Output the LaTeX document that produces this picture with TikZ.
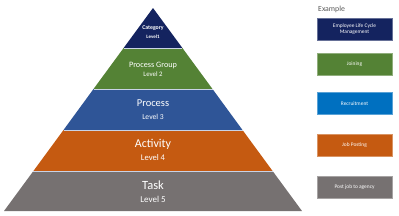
\documentclass[tikz,border=0pt]{standalone}
\usepackage{fontspec}
\setmainfont{Carlito}
\usepackage{tikz}
\usetikzlibrary{positioning}

\definecolor{lvlone}{HTML}{14235F}
\definecolor{lvltwo}{HTML}{548235}
\definecolor{lvlthree}{HTML}{2F5597}
\definecolor{lvlfour}{HTML}{C55A11}
\definecolor{lvlfive}{HTML}{767171}
\definecolor{exblue}{HTML}{0070C0}
\definecolor{gapline}{HTML}{C9D3E6}

\begin{document}
\begin{tikzpicture}[
    x=1pt, y=-1pt,
    band/.style={draw=gapline, line width=0.9pt, line join=miter},
    title/.style={text=white, inner sep=0pt, anchor=center},
    exbox/.style={draw=#1!65!white, fill=#1, line width=0.6pt,
                  minimum width=75pt, minimum height=22pt, inner sep=1pt,
                  text=white, align=center, font=\fontsize{5.4}{5.8}\selectfont},
  ]
  \useasboundingbox (0,0) rectangle (399,215);
  %% Pyramid bands (top to bottom)
  \fill[lvlone]   (153,8) -- (182.4,48) -- (123.6,48) -- cycle;
  \fill[lvltwo]   (123.6,48) -- (182.4,48) -- (212.5,89) -- (93.5,89) -- cycle;
  \fill[lvlthree] (93.5,89) -- (212.5,89) -- (242.5,130) -- (63.5,130) -- cycle;
  \fill[lvlfour]  (63.5,130) -- (242.5,130) -- (272.6,171) -- (33.4,171) -- cycle;
  \fill[lvlfive]  (33.4,171) -- (272.6,171) -- (302,211) -- (4,211) -- cycle;
  \draw[band] (123.6,48) -- (182.4,48);
  \draw[band] (93.5,89) -- (212.5,89);
  \draw[band] (63.5,130) -- (242.5,130);
  \draw[band] (33.4,171) -- (272.6,171);
  %% Band labels
  \node[title, font=\bfseries\fontsize{5.8}{6}\selectfont] (cat) at (153,28) {Category};
  \node[title, font=\bfseries\fontsize{5}{6}\selectfont] (catlvl) at (153,37) {Level1};
  \node[title, font=\fontsize{8.2}{9}\selectfont] (grp) at (153,65.5) {Process Group};
  \node[title, font=\fontsize{6.8}{8}\selectfont] (grplvl) at (153,74) {Level 2};
  \node[title, font=\fontsize{10.5}{12}\selectfont] (proc) at (153,103.5) {Process};
  \node[title, font=\fontsize{7.6}{9}\selectfont] (proclvl) at (153,116.5) {Level 3};
  \node[title, font=\fontsize{12}{14}\selectfont] (act) at (153,144) {Activity};
  \node[title, font=\fontsize{8.6}{10}\selectfont] (actlvl) at (153,158) {Level 4};
  \node[title, font=\fontsize{12.5}{14}\selectfont] (task) at (153,185) {Task};
  \node[title, font=\fontsize{9}{10}\selectfont] (tasklvl) at (153,199) {Level 5};
  %% Example column
  \node[text=black!65, inner sep=0pt, anchor=west, font=\fontsize{7.8}{9}\selectfont]
    (ex) at (318,9) {Example};
  \node[exbox=lvlone] (exone) at (354.5,29) {Employee Life Cycle\\Management};
  \node[exbox=lvltwo] (extwo) at (354.5,64) {Joining};
  \node[exbox=exblue] (exthree) at (354.5,103.5) {Recruitment};
  \node[exbox=lvlfour] (exfour) at (354.5,145) {Job Posting};
  \node[exbox=lvlfive] (exfive) at (354.5,187.5) {Post job to agency};
\end{tikzpicture}
\end{document}
